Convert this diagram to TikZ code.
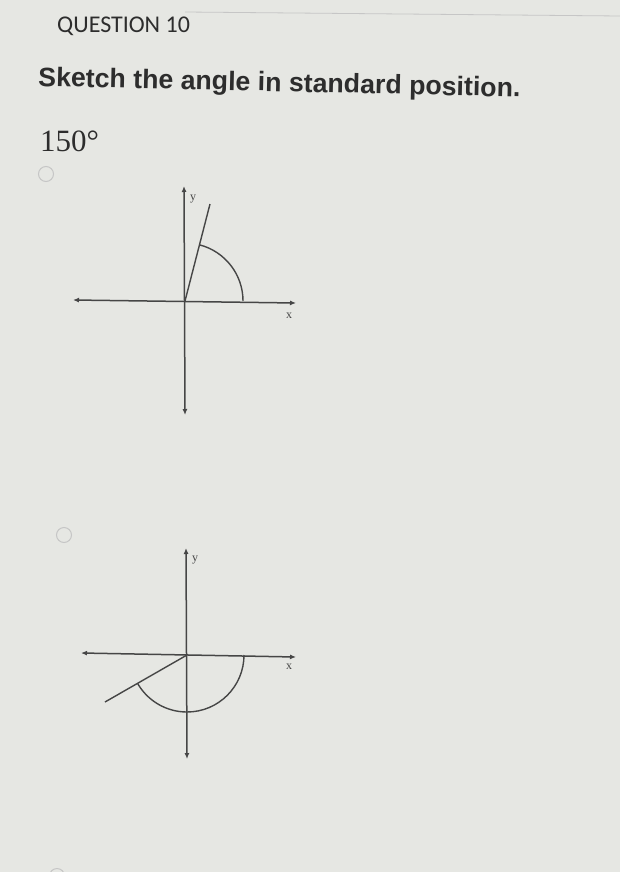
\documentclass[tikz,border=0pt]{standalone}
\usepackage{fontspec}
\setmainfont{Liberation Serif}
\setsansfont{Liberation Sans}
\newfontfamily\headfont{Carlito}
\usetikzlibrary{arrows.meta}
\definecolor{paper}{RGB}{230,231,227}
\definecolor{ink}{RGB}{45,45,45}
\definecolor{pencil}{RGB}{70,70,70}
\begin{document}
\begin{tikzpicture}[x=1pt,y=-1pt,
    axis/.style={draw=pencil,line width=1.5pt,{Latex[length=6pt,width=5pt]}-{Latex[length=6pt,width=5pt]}},
    side/.style={draw=pencil,line width=1.4pt},
    radio/.style={draw=gray!45,line width=1pt,circle,minimum size=15pt,inner sep=0pt},
    lbl/.style={text=pencil,inner sep=0pt,font=\fontsize{12}{12}\selectfont},
    txt/.style={anchor=base west,inner sep=0pt,text=ink}]
\fill[paper] (0,0) rectangle (620,872);
\useasboundingbox (0,0) rectangle (620,872);
\draw[gray!45,line width=0.8pt] (185,12) -- (620,16);
\node[txt,font=\headfont\fontsize{24}{24}\selectfont] (qnum) at (57,33) {QUESTION 10};
\node[txt,rotate=-1.3,font=\sffamily\bfseries\fontsize{26.7}{26.7}\selectfont] (task) at (38,86) {Sketch the angle in standard position.};
\node[txt,font=\fontsize{31}{31}\selectfont] (deg) at (40,151) {150°};
\node[radio] (optA) at (46,174) {};
\node[radio] (optB) at (64,535) {};
\node[radio] (optC) at (57,876) {};
\coordinate (oA) at (185,301);
\coordinate (xAl) at (73,300);
\coordinate (xAr) at (296,303);
\coordinate (yAt) at (184,186);
\coordinate (yAb) at (185,415);
\coordinate (rayA) at (210,204);
\draw[axis] (xAl) -- (xAr);
\draw[axis] (yAt) -- (yAb);
\draw[side] (oA) -- (rayA);
\draw[side] (oA) ++(58,0) arc[start angle=0,end angle=-75.5,radius=58];
\node[lbl] (yA) at (193,199) {y};
\node[lbl] (xA) at (289,316) {x};
\coordinate (oB) at (187,655);
\coordinate (xBl) at (81,653);
\coordinate (xBr) at (296,657);
\coordinate (yBt) at (186,548);
\coordinate (yBb) at (187,759);
\coordinate (rayB) at (105,702);
\draw[axis] (xBl) -- (xBr);
\draw[axis] (yBt) -- (yBb);
\draw[side] (oB) -- (rayB);
\draw[side] (oB) ++(57,0) arc[start angle=0,end angle=150,radius=57];
\node[lbl] (yB) at (195,560) {y};
\node[lbl] (xB) at (289,667) {x};
\end{tikzpicture}
\end{document}
